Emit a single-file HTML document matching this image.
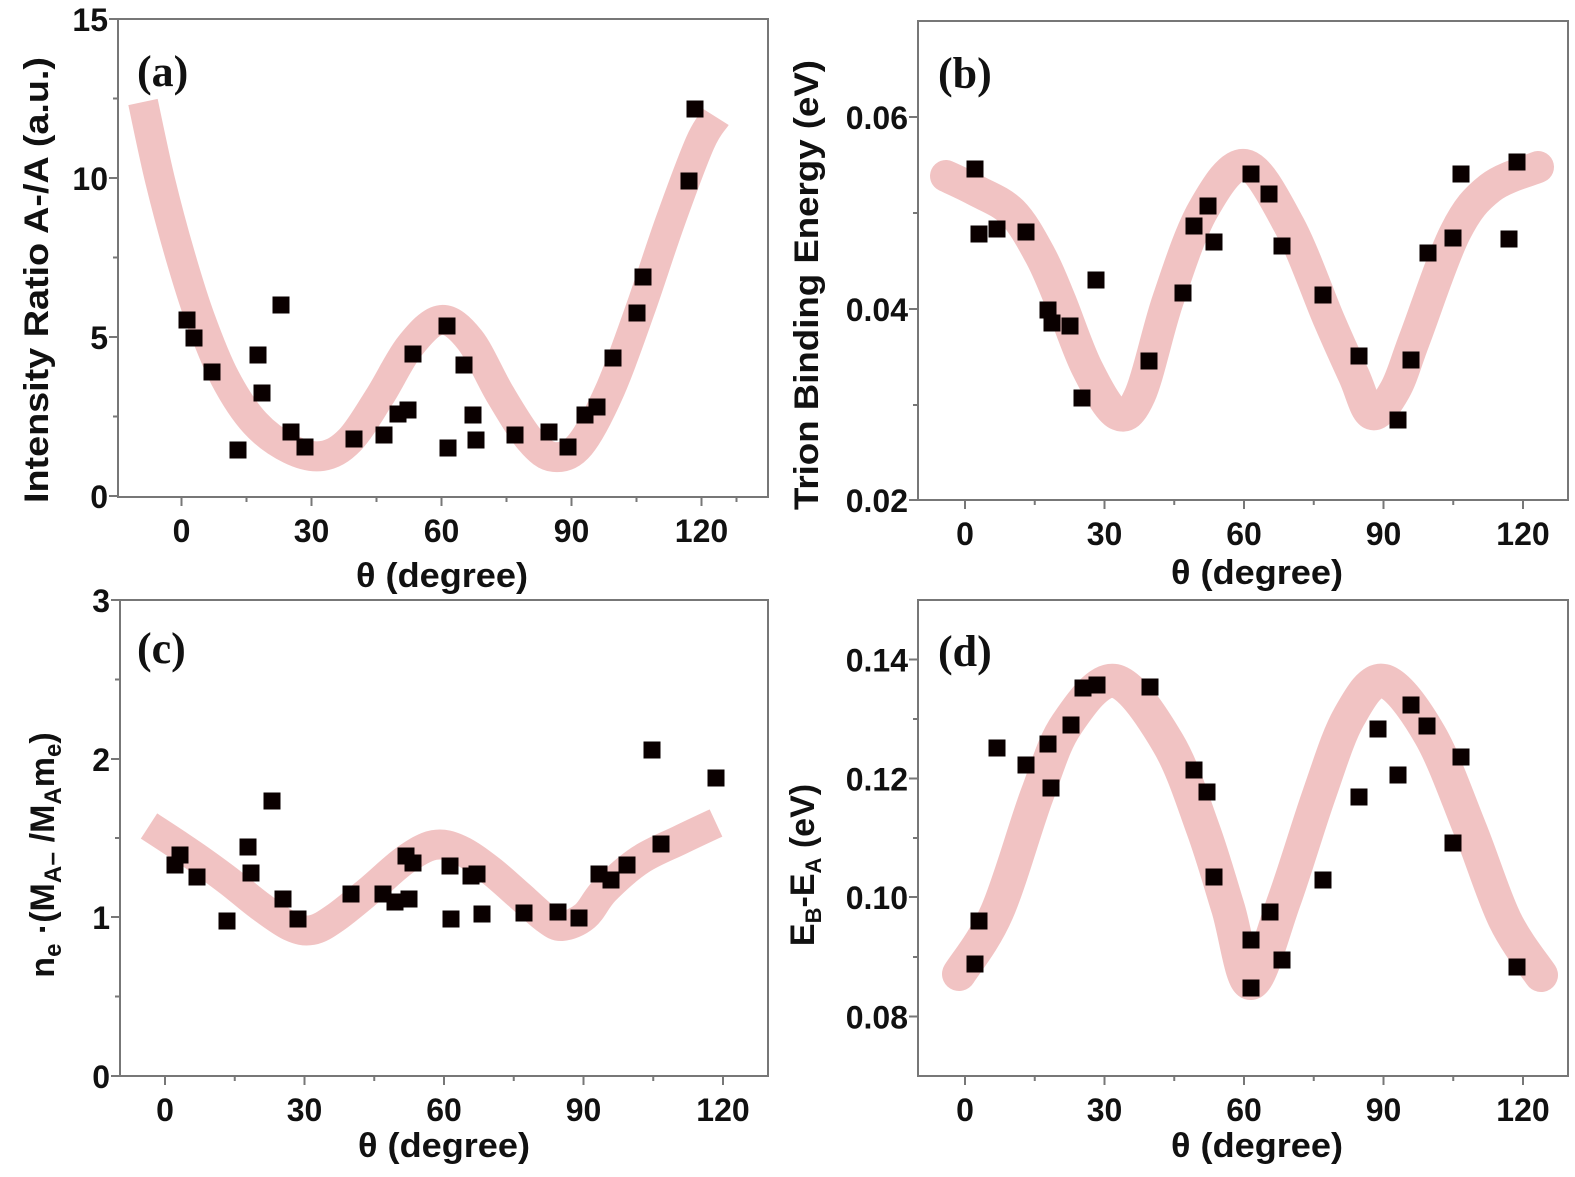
<!DOCTYPE html>
<html><head><meta charset="utf-8">
<style>
html,body{margin:0;padding:0;background:#fff;}
svg{display:block;}
text{font-family:"Liberation Sans",Arial,sans-serif;font-weight:bold;fill:#111;}
.tk{font-size:32px;}
.ti{font-size:34px;}
.pl{font-family:"Liberation Serif",serif;font-size:44px;font-weight:bold;}
</style></head>
<body>
<svg id="s" width="1575" height="1177" viewBox="0 0 1575 1177" xmlns="http://www.w3.org/2000/svg">
<rect width="1575" height="1177" fill="#fff"/>
<g id="g"></g>
<text class="ti" transform="translate(48,280) rotate(-90)" text-anchor="middle" textLength="446" lengthAdjust="spacingAndGlyphs">Intensity Ratio A-/A (a.u.)</text>
<text class="ti" transform="translate(818,285) rotate(-90)" text-anchor="middle" textLength="450" lengthAdjust="spacingAndGlyphs">Trion Binding Energy (eV)</text>
<text class="ti" transform="translate(54,855) rotate(-90)" text-anchor="middle" font-size="38">n<tspan font-size="24" dy="7">e</tspan><tspan dy="-7"> ·(M</tspan><tspan font-size="24" dy="7">A−</tspan><tspan dy="-7"> /M</tspan><tspan font-size="24" dy="7">A</tspan><tspan dy="-7">m</tspan><tspan font-size="24" dy="7">e</tspan><tspan dy="-7">)</tspan></text>
<text class="ti" transform="translate(814,865) rotate(-90)" text-anchor="middle" font-size="36">E<tspan font-size="22" dy="7">B</tspan><tspan dy="-7">-E</tspan><tspan font-size="22" dy="7">A</tspan><tspan dy="-7"> (eV)</tspan></text>
<text class="ti" x="442" y="587" text-anchor="middle" textLength="172" lengthAdjust="spacingAndGlyphs">θ (degree)</text>
<text class="ti" x="1257" y="584" text-anchor="middle" textLength="172" lengthAdjust="spacingAndGlyphs">θ (degree)</text>
<text class="ti" x="444" y="1157" text-anchor="middle" textLength="172" lengthAdjust="spacingAndGlyphs">θ (degree)</text>
<text class="ti" x="1257" y="1157" text-anchor="middle" textLength="172" lengthAdjust="spacingAndGlyphs">θ (degree)</text>
<text class="pl" x="137" y="86">(a)</text>
<text class="pl" x="938" y="88">(b)</text>
<text class="pl" x="137" y="663">(c)</text>
<text class="pl" x="938" y="666">(d)</text>
</svg>
<script>
var NS="http://www.w3.org/2000/svg",g=document.getElementById('g');
function el(t,a,p){var e=document.createElementNS(NS,t);for(var k in a)e.setAttribute(k,a[k]);(p||g).appendChild(e);return e;}
function cr(pts){var d="M"+pts[0][0]+","+pts[0][1];for(var i=0;i<pts.length-1;i++){var p0=pts[i-1]||pts[i],p1=pts[i],p2=pts[i+1],p3=pts[i+2]||p2;
var c1=[p1[0]+(p2[0]-p0[0])/6,p1[1]+(p2[1]-p0[1])/6],c2=[p2[0]-(p3[0]-p1[0])/6,p2[1]-(p3[1]-p1[1])/6];
d+=" C"+c1[0].toFixed(1)+","+c1[1].toFixed(1)+" "+c2[0].toFixed(1)+","+c2[1].toFixed(1)+" "+p2[0]+","+p2[1];}return d;}
function panel(o){
 el('path',{d:cr(o.curve),fill:'none',stroke:'#efb9b9','stroke-opacity':0.85,'stroke-width':o.sw,'stroke-linecap':o.cap,'stroke-linejoin':'round'});
 el('rect',{x:o.L,y:o.T,width:o.R-o.L,height:o.B-o.T,fill:'none',stroke:'#777','stroke-width':2});
 o.xt.forEach(function(t,i){el('line',{x1:t[0],x2:t[0],y1:o.B,y2:o.B+9,stroke:'#777','stroke-width':2});
  var tx=el('text',{x:t[0],y:o.B+45,'text-anchor':'middle','class':'tk'});tx.textContent=t[1];});
 o.xm.forEach(function(x){el('line',{x1:x,x2:x,y1:o.B,y2:o.B+5,stroke:'#777','stroke-width':2});});
 o.yt.forEach(function(t){el('line',{x1:o.L-9,x2:o.L,y1:t[0],y2:t[0],stroke:'#777','stroke-width':2});
  var tx=el('text',{x:o.L-10,y:t[0]+12,'text-anchor':'end','class':'tk'});tx.textContent=t[1];});
 o.ym.forEach(function(y){el('line',{x1:o.L-5,x2:o.L,y1:y,y2:y,stroke:'#777','stroke-width':2});});
 o.pts.forEach(function(p){el('rect',{x:p[0]-8.5,y:p[1]-8.5,width:17,height:17,fill:'#0a0000'});});
}
function mids(a){var r=[];for(var i=0;i<a.length-1;i++)r.push((a[i]+a[i+1])/2);return r;}
var xa=[181.5,311.5,441.5,571.5,701.5];
panel({L:118,R:768,T:19,B:497,sw:30,cap:'butt',
 xt:xa.map(function(x,i){return [x,String(i*30)]}),xm:mids(xa).concat([736.5]),
 yt:[[19,'15'],[178,'10'],[337,'5'],[496,'0']],ym:[98.5,257.5,416.5],
 curve:[[143,102],[160,180],[180,255],[200,318],[225,378],[255,423],[290,449],[322,456],[350,440],[380,396],[410,346],[441,320],[470,340],[500,394],[530,440],[554,457],[580,445],[610,390],[640,310],[670,222],[700,143],[716,117]],
 pts:[[187,320],[194,338],[212,372],[238,450],[258,355],[262,393],[281,305],[291,432],[305,447],[354,439],[384,435],[398,414],[408,410],[413,354],[447,326],[448,448],[464,365],[473,415],[476,440],[515,435],[549,432],[568,447],[585,415],[597,407],[613,358],[637,313],[643,277],[689,181],[695,109]]});
var xb=[965,1104.5,1244,1383.5,1523];
panel({L:918,R:1568,T:21,B:500,sw:32,cap:'round',
 xt:xb.map(function(x,i){return [x,String(i*30)]}),xm:mids(xb),
 yt:[[117,'0.06'],[309,'0.04'],[500,'0.02']],ym:[213,405],
 curve:[[946,176],[975,190],[1012,212],[1040,255],[1060,300],[1087,368],[1117,414],[1140,395],[1168,300],[1203,210],[1245,165],[1289,225],[1329,320],[1354,376],[1372,414],[1395,390],[1415,338],[1455,233],[1490,188],[1538,167]],
 pts:[[975,169],[979,234],[997,229],[1026,232],[1048,310],[1052,323],[1070,326],[1082,398],[1096,280],[1149,361],[1183,293],[1194,226],[1208,206],[1214,242],[1251,174],[1269,194],[1282,246],[1323,295],[1359,356],[1398,420],[1411,360],[1428,253],[1453,238],[1461,174],[1509,239],[1517,162]]});
var xc=[165,304.5,444,583.5,723];
panel({L:120,R:768,T:600,B:1076,sw:30,cap:'butt',
 xt:xc.map(function(x,i){return [x,String(i*30)]}),xm:mids(xc),
 yt:[[600,'3'],[759,'2'],[917,'1'],[1076,'0']],ym:[679.5,838,996.5],
 curve:[[149,826],[175,843],[200,860],[230,882],[260,906],[290,926],[312,930],[335,918],[370,890],[405,860],[434,845],[460,850],[490,870],[520,896],[545,918],[562,926],[585,916],[605,890],[640,860],[680,840],[716,823]],
 pts:[[175,865],[180,855],[197,877],[227,921],[248,847],[251,873],[272,801],[283,899],[298,919],[351,894],[383,894],[395,902],[409,899],[406,856],[413,863],[450,866],[451,919],[471,876],[477,874],[482,914],[524,913],[558,912],[579,918],[599,874],[611,880],[627,865],[652,750],[661,844],[716,778]]});
panel({L:918,R:1568,T:600,B:1076,sw:34,cap:'round',
 xt:xb.map(function(x,i){return [x,String(i*30)]}),xm:mids(xb),
 yt:[[659.5,'0.14'],[778.5,'0.12'],[897,'0.10'],[1016.5,'0.08']],ym:[719,838,957],
 curve:[[959,974],[997,912],[1037,795],[1067,724],[1115,681],[1168,743],[1203,829],[1228,908],[1251,983],[1284,901],[1319,795],[1349,717],[1384,681],[1430,735],[1470,829],[1505,920],[1541,975]],
 pts:[[975,964],[979,921],[997,748],[1026,765],[1048,744],[1051,788],[1071,725],[1083,688],[1097,685],[1150,687],[1194,770],[1207,792],[1214,877],[1251,940],[1251,988],[1270,912],[1282,960],[1323,880],[1359,797],[1378,729],[1398,775],[1411,705],[1427,726],[1453,843],[1461,757],[1517,967]]});
</script>
</body></html>
